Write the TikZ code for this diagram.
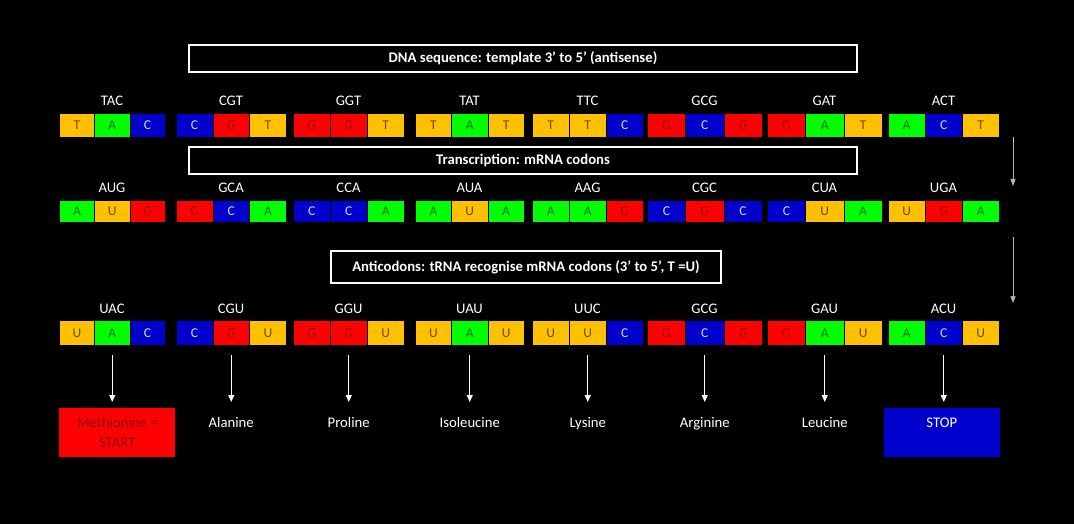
\documentclass[tikz,border=0pt]{standalone}
\usepackage{fontspec}
\setmainfont{Carlito}
\usetikzlibrary{arrows.meta}
\definecolor{colA}{RGB}{0,255,0}
\definecolor{colC}{RGB}{0,0,204}
\definecolor{colG}{RGB}{255,0,0}
\definecolor{colT}{RGB}{255,192,0}
\colorlet{colU}{colT}
\colorlet{txtA}{colA!40!black}
\colorlet{txtC}{white!85!colC}
\colorlet{txtG}{colG!52!black}
\colorlet{txtT}{colT!40!black}
\colorlet{txtU}{txtT}
\tikzset{
  base/.style={draw=black, line width=0.5pt, fill=col#1, text=txt#1, inner sep=0pt, anchor=north west, font=\fontsize{13.5}{13.5}\selectfont},
  title/.style={draw=white, line width=1.2pt, fill=black, text=white, inner sep=0pt, font=\bfseries\fontsize{14.7}{14.7}\selectfont},
  codon/.style={text=white, inner sep=0pt, font=\fontsize{14.6}{14.6}\selectfont},
  amino/.style={text=white, align=center, inner sep=0pt, minimum width=116pt, minimum height=49pt, font=\fontsize{14.7}{20}\selectfont},
  arr/.style={draw=white, line width=0.8pt, -{Triangle[width=6pt,length=7pt]}},
}
\def\xs{{59,176,293,415,532,647,767,888}}
\def\xe{{165,286,404,524,643,762,882,999}}
\newcommand\baserow[5]{%
  \foreach \lab/\p/\q/\s [count=\i] in {#5} {
    \pgfmathsetmacro\a{\xs[\i-1]}
    \pgfmathsetmacro\e{\xe[\i-1]}
    \pgfmathsetmacro\w{(\e-\a)/3}
    \node[codon] (l#1-\i) at (\a+1.5*\w, #4) {\lab};
    \foreach \b [count=\j] in {\p,\q,\s}
      \node[base=\b, minimum width=\w pt, minimum height={(#3-#2)*1pt}] (r#1-\i-\j) at (\a+\j*\w-\w, #2) {\b};
  }}
\begin{document}
\begin{tikzpicture}[x=1pt,y=-1pt]
\fill[black] (0,0) rectangle (1074,524);
\useasboundingbox (0,0) rectangle (1074,524);

\node[title, minimum width=668pt, minimum height=27pt] (dna) at (523,58.5) {DNA sequence: template 3’ to 5’ (antisense)};
\node[title, minimum width=668pt, minimum height=27pt] (mrna) at (523,160.5) {Transcription: mRNA codons};
\node[title, minimum width=390pt, minimum height=32pt] (trna) at (526,267) {Anticodons: tRNA recognise mRNA codons (3’ to 5’, T =U)};

\baserow{1}{113}{137}{100.7}{TAC/T/A/C, CGT/C/G/T, GGT/G/G/T, TAT/T/A/T, TTC/T/T/C, GCG/G/C/G, GAT/G/A/T, ACT/A/C/T}
\baserow{2}{200}{222}{188.3}{AUG/A/U/G, GCA/G/C/A, CCA/C/C/A, AUA/A/U/A, AAG/A/A/G, CGC/C/G/C, CUA/C/U/A, UGA/U/G/A}
\baserow{3}{320}{345}{309.3}{UAC/U/A/C, CGU/C/G/U, GGU/G/G/U, UAU/U/A/U, UUC/U/U/C, GCG/G/C/G, GAU/G/A/U, ACU/A/C/U}

\foreach \name/\col/\txt/\dx [count=\i] in {Methionine =\\START/colG/txtG/5, Alanine\\~/none/white/0, Proline\\~/none/white/0, Isoleucine\\~/none/white/0, Lysine\\~/none/white/0, Arginine\\~/none/white/0, Leucine\\~/none/white/0, STOP\\~/colC/white/-2}
  \node[amino, fill=\col, text=\txt, anchor=north, xshift=\dx pt] (aa\i) at (r3-\i-2.south |- 0,408) {\name};
\foreach \i in {1,...,8}
  \draw[arr, shorten <=9pt, shorten >=6pt] (r3-\i-2.south) -- (r3-\i-2.south |- aa\i.north);

\coordinate (d1) at (1013,137);
\coordinate (d2) at (1013,186);
\coordinate (d3) at (1013,237);
\coordinate (d4) at (1013,303);
\draw[arr, draw=white!72!black, line width=0.6pt, -{Triangle[width=5pt,length=7pt]}] (d1) -- (d2);
\draw[arr, draw=white!72!black, line width=0.6pt, -{Triangle[width=5pt,length=7pt]}] (d3) -- (d4);
\end{tikzpicture}
\end{document}
